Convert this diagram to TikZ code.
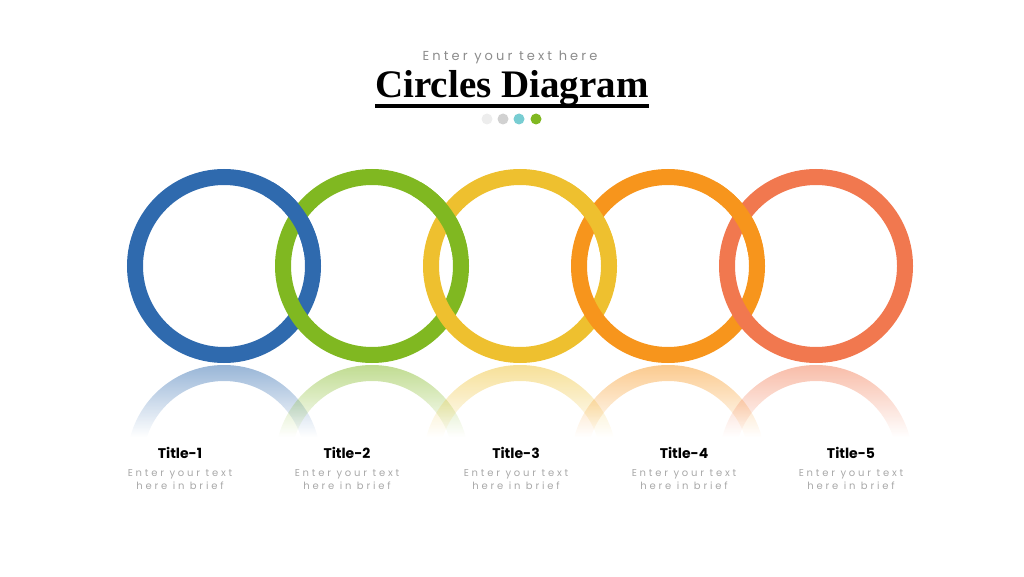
\documentclass[tikz,border=0pt]{standalone}
\usepackage{fontspec}
\setmainfont{Liberation Serif}
\newfontfamily\popfont{Poppins}
\newfontfamily\popsub[LetterSpace=24]{Poppins}
\newfontfamily\popbody[LetterSpace=28]{Poppins}
\usetikzlibrary{positioning,fadings}

\definecolor{cblue}{HTML}{2F6AAE}
\definecolor{cgreen}{HTML}{80B821}
\definecolor{cyellow}{HTML}{EEC02F}
\definecolor{corange}{HTML}{F7951C}
\definecolor{ccoral}{HTML}{F1784F}
\definecolor{cteal}{HTML}{78CDD2}
\definecolor{cgrey}{HTML}{8C8C8C}
\definecolor{cbody}{HTML}{A8A8A8}
\tikzfading[name=reflfade,top color=transparent!50,bottom color=transparent!100]

\begin{document}
\begin{tikzpicture}[x=1pt,y=1pt]
    \tikzstyle{ring}=[line width=16pt]
    \tikzstyle{dot}=[circle,inner sep=0pt,minimum size=11pt]
    \tikzstyle{titletext}=[font=\popfont\bfseries\fontsize{14}{16}\selectfont,inner sep=0pt]
    \tikzstyle{bodytext}=[font=\popbody\fontsize{10}{13}\selectfont,text=cbody,align=center,inner sep=0pt]
    \useasboundingbox (0,0) rectangle (1024,576);

    % heading
    \node[font=\popsub\fontsize{13}{15}\selectfont,text=cgrey,anchor=base] (sub) at (510,515) {Enter your text here};
    \node[font=\bfseries\fontsize{39}{42}\selectfont,anchor=base,inner sep=0pt] (head) at (512,478) {Circles Diagram};
    \draw[line width=3.5pt] ([yshift=-8pt]head.base west) -- ([yshift=-8pt]head.base east);
    \node[dot,fill=black!7]  (d1) at (487,457) {};
    \node[dot,fill=black!18] (d2) at (503,457) {};
    \node[dot,fill=cteal]    (d3) at (519,457) {};
    \node[dot,fill=cgreen]   (d4) at (536,457) {};

    % rings and their reflections
    \foreach \i/\col/\cx in {1/cblue/224,2/cgreen/372,3/cyellow/520,4/corange/668,5/ccoral/816}{
      \coordinate (c\i) at (\cx,310);
      \coordinate (m\i) at (\cx,114);
      \draw[ring,draw=\col] (c\i) circle (89);
      \begin{scope}[even odd rule]
        \clip (m\i) circle (97) (m\i) circle (81);
        \fill[\col,path fading=reflfade] (\cx-100,212) rectangle (\cx+100,139);
      \end{scope}
    }
    % upper crossings: left ring on top
    \foreach \i/\col in {1/cblue,2/cgreen,3/cyellow,4/corange}{
      \draw[ring,draw=\col] ([shift={(10:89)}]c\i) arc (10:60:89);
    }

    % captions
    \foreach \i/\tx in {1/180,2/347,3/516,4/684,5/851}{
      \node[titletext] (t\i) at (\tx,123) {Title-\i};
      \node[bodytext] (b\i) at (\tx,96.5) {Enter your text\\here in brief};
    }
\end{tikzpicture}
\end{document}
